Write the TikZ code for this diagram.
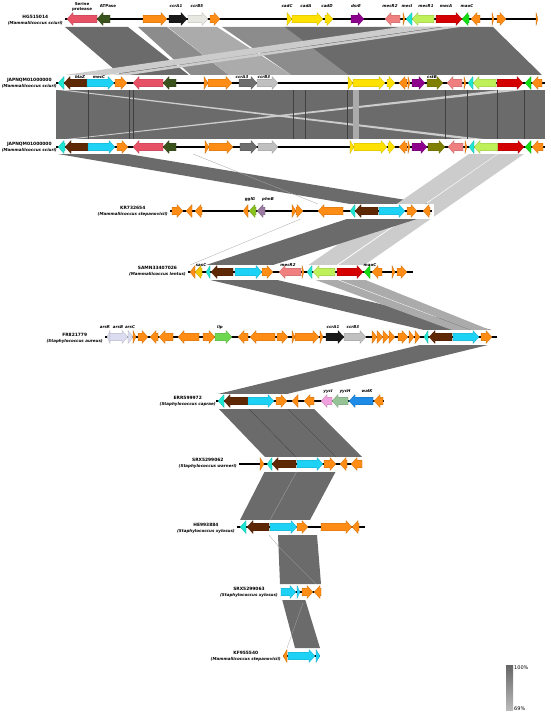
\documentclass[tikz,border=0pt]{standalone}
\usepackage{fontspec}
\setmainfont{DejaVu Sans}
\definecolor{orng}{RGB}{255,140,20}
\definecolor{serprot}{RGB}{232,82,102}
\definecolor{atpgreen}{RGB}{58,82,28}
\definecolor{ccrblack}{RGB}{25,25,25}
\definecolor{ccrwhite}{RGB}{232,232,226}
\definecolor{ccrdim}{RGB}{110,110,110}
\definecolor{ccrsilver}{RGB}{192,192,192}
\definecolor{cadyel}{RGB}{255,225,0}
\definecolor{dsrpurp}{RGB}{140,0,140}
\definecolor{mecsalm}{RGB}{240,128,128}
\definecolor{meccyan}{RGB}{30,230,210}
\definecolor{mecgy}{RGB}{190,240,90}
\definecolor{mecred}{RGB}{212,0,0}
\definecolor{maogreen}{RGB}{20,220,20}
\definecolor{blazbrown}{RGB}{95,40,5}
\definecolor{deepcyan}{RGB}{30,210,245}
\definecolor{cstolive}{RGB}{128,128,0}
\definecolor{gglgreen}{RGB}{136,192,32}
\definecolor{phnmauve}{RGB}{154,122,160}
\definecolor{sasgold}{RGB}{240,200,0}
\definecolor{arslav}{RGB}{220,220,240}
\definecolor{lipgreen}{RGB}{110,215,80}
\definecolor{yycpink}{RGB}{240,160,220}
\definecolor{yycsage}{RGB}{150,195,150}
\definecolor{walkblue}{RGB}{30,140,230}
\newcommand{\gnr}[4]{%
  \pgfmathsetmacro{\gh}{max(#1,#2-6)}%
  \filldraw[#4, draw=#4!75!black, line width=0.15pt] (#1,#3-3.8) -- (\gh,#3-3.8) -- (\gh,#3-6.5) -- (#2,#3) -- (\gh,#3+6.5) -- (\gh,#3+3.8) -- (#1,#3+3.8) -- cycle;}
\newcommand{\gnl}[4]{%
  \pgfmathsetmacro{\gh}{min(#2,#1+6)}%
  \filldraw[#4, draw=#4!75!black, line width=0.15pt] (#2,#3-3.8) -- (\gh,#3-3.8) -- (\gh,#3-6.5) -- (#1,#3) -- (\gh,#3+6.5) -- (\gh,#3+3.8) -- (#2,#3+3.8) -- cycle;}
\newcommand{\hband}[7]{\fill[#1] (#2,#6) -- (#3,#6) -- (#5,#7) -- (#4,#7) -- cycle;}
\newcommand{\spc}[1]{{\fontsize{4.05}{6}\selectfont\itshape(#1)}}
\tikzset{
  trk/.style={line width=1.2pt},
  trkbg/.style={fill=white},
  acc/.style={anchor=east, align=center, inner sep=1pt, font=\fontsize{4.4}{6}\selectfont\bfseries},
  glab/.style={font=\fontsize{4}{4.8}\selectfont\bfseries\itshape, inner sep=0pt},
  bdark/.style={fill=black!58},
  bmid/.style={fill=black!45},
  blight/.style={fill=black!33},
  bpale/.style={fill=black!20},
  vline/.style={draw=black!75, line width=0.3pt},
  thin/.style={draw=black!35, line width=0.3pt}
}

\begin{document}
\begin{tikzpicture}[x=1pt,y=-1pt]
\useasboundingbox (0,0) rectangle (550,714);
\hband{bdark}{65}{128}{122}{190}{27}{76}
\hband{bmid}{138}{167}{192}{230}{27}{76}
\hband{blight}{168}{217}{230}{293}{27}{76}
\hband{bmid}{222}{290}{293}{353}{27}{76}
\hband{bdark}{285}{493}{350}{543}{27}{76}
\hband{bpale}{400}{440}{58}{100}{27}{76}
\hband{bpale}{444}{460}{104}{122}{27}{76}
\hband{bdark}{56}{545}{56}{545}{90}{140}
\hband{bpale}{58}{66}{472}{492}{90}{140}
\hband{bpale}{500}{524}{58}{64}{90}{140}
\hband{blight}{353}{359}{353}{359}{90}{140}
\foreach \vx in {88,129,133,293,305,347,445,467,497,524}
  \draw[vline] (\vx,90) -- (\vx,140);
\hband{bdark}{58}{128}{350}{430}{154}{204}
\draw[thin] (193,154) -- (318,204);
\hband{bpale}{469}{497}{307}{335}{154}{266}
\hband{bpale}{498}{524}{337}{363}{154}{266}
\hband{bdark}{350}{420}{206}{273}{218}{265}
\draw[thin] (303,218) -- (190,265);
\hband{bdark}{206}{273}{424}{492}{279}{330}
\hband{blight}{313}{335}{452}{470}{279}{330}
\hband{blight}{337}{363}{471}{490}{279}{330}
\hband{bdark}{424}{492}{218}{287}{344}{394}
\hband{bdark}{218}{313}{265}{362}{408}{457}
\draw[vline] (248,408) -- (296,457);
\draw[vline] (287,408) -- (336,457);
\hband{bdark}{265}{336}{240}{310}{471}{520}
\draw[thin] (297,471) -- (270,520);
\hband{bdark}{278}{317}{280}{321}{535}{584}
\draw[thin] (268,534) -- (280,548) -- (316,584);
\hband{bdark}{282}{305}{295}{320}{599}{648}
\draw[thin] (303,603) -- (287,648);
\fill[trkbg] (63,11.5) rectangle (540,26.5);
\fill[trkbg] (54,75.5) rectangle (547,90.5);
\fill[trkbg] (54,139.5) rectangle (547,154.5);
\fill[trkbg] (168,203.5) rectangle (434,218.5);
\fill[trkbg] (186,264.5) rectangle (415,279.5);
\fill[trkbg] (103,329.5) rectangle (499,344.5);
\fill[trkbg] (214,393.5) rectangle (386,408.5);
\fill[trkbg] (237,456.5) rectangle (364,471.5);
\fill[trkbg] (235,519.5) rectangle (367,534.5);
\fill[trkbg] (279,584.5) rectangle (323,599.5);
\fill[trkbg] (281,648.5) rectangle (322,663.5);
\draw[trk] (65,19) -- (538,19);
\draw[trk] (56,83) -- (545,83);
\draw[trk] (56,147) -- (545,147);
\draw[trk] (170,211) -- (432,211);
\draw[trk] (188,272) -- (413,272);
\draw[trk] (105,337) -- (497,337);
\draw[trk] (216,401) -- (384,401);
\draw[trk] (239,464) -- (362,464);
\draw[trk] (237,527) -- (365,527);
\draw[trk] (281,592) -- (321,592);
\draw[trk] (283,656) -- (320,656);
\gnl{67}{97}{19}{serprot}
\gnl{97}{110}{19}{atpgreen}
\gnr{143}{167}{19}{orng}
\gnr{169}{187}{19}{ccrblack}
\gnr{188}{208}{19}{ccrwhite}
\gnr{210}{220}{19}{orng}
\gnr{287}{292}{19}{cadyel}
\gnr{292}{323}{19}{cadyel}
\gnr{325}{333}{19}{cadyel}
\gnr{351}{364}{19}{dsrpurp}
\gnl{385}{400}{19}{mecsalm}
\gnr{403}{405}{19}{orng}
\gnl{406}{412}{19}{meccyan}
\gnl{412}{434}{19}{mecgy}
\gnr{436}{462}{19}{mecred}
\gnl{462}{469}{19}{maogreen}
\gnl{471}{480}{19}{orng}
\gnr{492}{494}{19}{orng}
\gnr{497}{506}{19}{orng}
\gnr{536}{538}{19}{orng}
\gnl{58}{64}{83}{meccyan}
\gnl{64}{87}{83}{blazbrown}
\gnr{87}{114}{83}{deepcyan}
\gnr{115}{127}{83}{orng}
\gnl{133}{163}{83}{serprot}
\gnl{163}{176}{83}{atpgreen}
\gnr{204}{208}{83}{orng}
\gnr{208}{232}{83}{orng}
\gnr{239}{257}{83}{ccrdim}
\gnr{257}{278}{83}{ccrsilver}
\gnr{348}{353}{83}{cadyel}
\gnr{353}{385}{83}{cadyel}
\gnr{387}{395}{83}{cadyel}
\gnl{399}{407}{83}{orng}
\gnr{408}{410}{83}{orng}
\gnr{412}{425}{83}{dsrpurp}
\gnr{427}{443}{83}{cstolive}
\gnl{447}{462}{83}{mecsalm}
\gnr{464}{466}{83}{orng}
\gnl{468}{473}{83}{meccyan}
\gnl{473}{496}{83}{mecgy}
\gnr{497}{523}{83}{mecred}
\gnl{525}{531}{83}{maogreen}
\gnl{532}{542}{83}{orng}
\gnl{58}{65}{147}{meccyan}
\gnl{65}{88}{147}{blazbrown}
\gnr{88}{115}{147}{deepcyan}
\gnr{117}{128}{147}{orng}
\gnl{133}{163}{147}{serprot}
\gnl{163}{176}{147}{atpgreen}
\gnr{205}{209}{147}{orng}
\gnr{209}{233}{147}{orng}
\gnr{240}{257}{147}{ccrdim}
\gnr{258}{278}{147}{ccrsilver}
\gnr{350}{354}{147}{cadyel}
\gnr{354}{387}{147}{cadyel}
\gnr{388}{395}{147}{cadyel}
\gnl{399}{407}{147}{orng}
\gnr{408}{410}{147}{orng}
\gnr{412}{427}{147}{dsrpurp}
\gnr{428}{445}{147}{cstolive}
\gnl{448}{463}{147}{mecsalm}
\gnr{465}{467}{147}{orng}
\gnl{469}{474}{147}{meccyan}
\gnl{474}{498}{147}{mecgy}
\gnr{498}{524}{147}{mecred}
\gnl{525}{531}{147}{maogreen}
\gnl{532}{543}{147}{orng}
\gnr{172}{183}{211}{orng}
\gnl{186}{192}{211}{orng}
\gnl{195}{202}{211}{orng}
\gnl{243}{248}{211}{orng}
\gnl{249}{256}{211}{gglgreen}
\gnl{257}{265}{211}{phnmauve}
\gnr{292}{296}{211}{orng}
\gnr{296}{303}{211}{orng}
\gnl{318}{343}{211}{orng}
\gnl{350}{355}{211}{meccyan}
\gnl{355}{378}{211}{blazbrown}
\gnr{379}{405}{211}{deepcyan}
\gnr{407}{417}{211}{orng}
\gnl{423}{430}{211}{orng}
\gnl{190}{195}{272}{orng}
\gnl{195}{202}{272}{sasgold}
\gnl{206}{210}{272}{meccyan}
\gnl{211}{233}{272}{blazbrown}
\gnr{235}{262}{272}{deepcyan}
\gnr{262}{273}{272}{orng}
\gnl{279}{301}{272}{mecsalm}
\gnr{302}{304}{272}{orng}
\gnl{307}{312}{272}{meccyan}
\gnl{313}{335}{272}{mecgy}
\gnr{337}{363}{272}{mecred}
\gnl{364}{370}{272}{maogreen}
\gnl{372}{382}{272}{orng}
\gnr{392}{395}{272}{orng}
\gnr{397}{407}{272}{orng}
\gnl{107}{110}{337}{arslav}
\gnr{110}{128}{337}{arslav}
\gnr{128}{133}{337}{arslav}
\gnr{133}{136}{337}{orng}
\gnr{138}{148}{337}{orng}
\gnl{150}{158}{337}{orng}
\gnl{159}{173}{337}{orng}
\gnl{178}{199}{337}{orng}
\gnr{203}{215}{337}{orng}
\gnr{215}{232}{337}{lipgreen}
\gnl{238}{248}{337}{orng}
\gnl{250}{275}{337}{orng}
\gnr{277}{288}{337}{orng}
\gnr{292}{295}{337}{orng}
\gnr{295}{319}{337}{orng}
\gnr{320}{323}{337}{orng}
\gnr{326}{344}{337}{ccrblack}
\gnr{344}{366}{337}{ccrsilver}
\gnr{372}{377}{337}{orng}
\gnr{377}{383}{337}{orng}
\gnr{383}{389}{337}{orng}
\gnr{389}{395}{337}{orng}
\gnr{398}{408}{337}{orng}
\gnr{409}{414}{337}{orng}
\gnr{415}{420}{337}{orng}
\gnl{424}{428}{337}{meccyan}
\gnl{429}{452}{337}{blazbrown}
\gnr{453}{479}{337}{deepcyan}
\gnr{481}{492}{337}{orng}
\gnl{218}{224}{401}{meccyan}
\gnl{224}{248}{401}{blazbrown}
\gnr{248}{274}{401}{deepcyan}
\gnr{276}{287}{401}{orng}
\gnl{292}{298}{401}{orng}
\gnl{304}{314}{401}{orng}
\gnl{321}{332}{401}{yycpink}
\gnl{332}{348}{401}{yycsage}
\gnl{349}{373}{401}{walkblue}
\gnl{374}{383}{401}{orng}
\gnr{260}{264}{464}{orng}
\gnl{267}{272}{464}{meccyan}
\gnl{272}{296}{464}{blazbrown}
\gnr{297}{323}{464}{deepcyan}
\gnr{324}{336}{464}{orng}
\gnl{340}{347}{464}{orng}
\gnl{351}{362}{464}{orng}
\gnl{240}{246}{527}{meccyan}
\gnl{247}{269}{527}{blazbrown}
\gnr{270}{297}{527}{deepcyan}
\gnr{297}{308}{527}{orng}
\gnr{321}{352}{527}{orng}
\gnl{352}{359}{527}{orng}
\gnr{281}{296}{592}{deepcyan}
\gnr{297}{300}{592}{deepcyan}
\gnr{302}{313}{592}{orng}
\gnl{314}{321}{592}{orng}
\gnl{283}{287}{656}{orng}
\gnr{288}{315}{656}{deepcyan}
\gnr{316}{320}{656}{deepcyan}
\node[acc] (l1) at (64,20) {HG515014\\\spc{Mammaliicoccus sciuri}};
\node[acc] (l2) at (58,83.5) {JAPNQM01000000\\\spc{Mammaliicoccus sciuri}};
\node[acc] (l3) at (58,147.5) {JAPNQM01000000\\\spc{Mammaliicoccus sciuri}};
\node[acc] (l4) at (169,211) {KR732654\\\spc{Mammaliicoccus stepanovicii}};
\node[acc] (l5) at (187,271) {SAMN33407026\\\spc{Mammaliicoccus lentus}};
\node[acc] (l6) at (104,338) {FR821779\\\spc{Staphylococcus aureus}};
\node[acc] (l7) at (217,401) {ERR599972\\\spc{Staphylococcus caprae}};
\node[acc] (l8) at (238,463) {SRX5299062\\\spc{Staphylococcus warneri}};
\node[acc] (l9) at (236,528) {HE993884\\\spc{Staphylococcus xylosus}};
\node[acc] (l10) at (279,592) {SRX5299063\\\spc{Staphylococcus xylosus}};
\node[acc] (l11) at (282,656) {KF955540\\\spc{Mammaliicoccus stepanovicii}};
\node[glab, align=center, font=\fontsize{4}{5}\selectfont\bfseries] (serA) at (82,6.5) {Serine\\protease};
\node[glab, font=\fontsize{4}{4.8}\selectfont\bfseries] (atpA) at (108,6) {ATPase};
\node[glab] (ccrAa) at (176,6) {ccrA1};
\node[glab] (ccrBa) at (197,6) {ccrB5};
\node[glab] (cadC) at (287,6) {cadC};
\node[glab] (cadA) at (306,6) {cadA};
\node[glab] (cadD) at (327,6) {cadD};
\node[glab] (dsrE) at (356,6) {dsrE};
\node[glab] (mecRa) at (390,6) {mecR2};
\node[glab] (mecI) at (407,6) {mecI};
\node[glab] (mecR) at (426,6) {mecR1};
\node[glab] (mecA) at (446,6) {mecA};
\node[glab] (maoCa) at (467,6) {maoC};
\node[glab] (blaZ) at (80,77) {blaZ};
\node[glab] (mecC) at (99,77) {mecC};
\node[glab] (ccrAb) at (242,77) {ccrA3};
\node[glab] (ccrBb) at (264,77) {ccrB3};
\node[glab] (cstB) at (432,77) {cstB};
\node[glab] (gglG) at (250,199) {gglG};
\node[glab] (phnB) at (268,199) {phnB};
\node[glab] (sasC) at (201,265) {sasC};
\node[glab] (mecRb) at (288,265) {mecR2};
\node[glab] (maoCb) at (370,265) {maoC};
\node[glab] (arsR) at (105,327) {arsR};
\node[glab] (arsB) at (118,327) {arsB};
\node[glab] (arsC) at (130,327) {arsC};
\node[glab] (lip) at (220,327) {lip};
\node[glab] (ccrAc) at (333,327) {ccrA1};
\node[glab] (ccrBc) at (353,327) {ccrB3};
\node[glab] (yycI) at (328,391) {yycI};
\node[glab] (yycH) at (345,391) {yycH};
\node[glab] (walK) at (367,391) {walK};
\shade[top color=black!60, bottom color=black!27] (506,665) rectangle (513,710);
\node[anchor=west, inner sep=0pt, font=\fontsize{5}{6}\selectfont] (pmax) at (514,668) {100\%};
\node[anchor=west, inner sep=0pt, font=\fontsize{5}{6}\selectfont] (pmin) at (514,709) {69\%};
\end{tikzpicture}
\end{document}
